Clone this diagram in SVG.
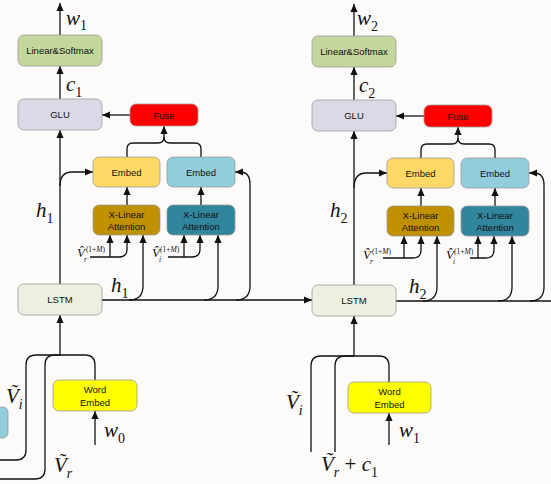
<svg xmlns="http://www.w3.org/2000/svg" width="551" height="484" viewBox="0 0 551 484">
<defs>
<marker id="ah" viewBox="0 0 10 10" refX="10" refY="5" markerWidth="8" markerHeight="8" markerUnits="userSpaceOnUse" orient="auto">
<path d="M0,0.5 L10,5 L0,9.5 z" fill="#111"/>
</marker>
<style>
.box{stroke:#9a9a9a;stroke-width:0.8}
.lin{fill:#c3d69b}.glu{fill:#dcd9e7}.fuse{fill:#ff0000}.emy{fill:#ffd966}.emb{fill:#92cddc}
.xlg{fill:#bf9000}.xlt{fill:#31859c}.lstm{fill:#ebf1de}.wem{fill:#ffff00}
.lbl{font-family:"Liberation Sans",Arial,sans-serif;font-size:9.5px;fill:#111;text-anchor:middle}
.c{fill:none;stroke:#111;stroke-width:1.3}
.a{marker-end:url(#ah)}
.m{font-family:"Liberation Serif","DejaVu Serif",serif;font-style:italic;font-size:21px;fill:#111}
.ms{font-family:"Liberation Serif","DejaVu Serif",serif;font-style:italic;font-size:13px;fill:#111}
.s{font-style:normal;font-size:14px}
.ss{font-style:italic;font-size:7.5px}
.su{font-style:normal;font-size:7.5px}
</style>
</defs>
<rect x="0" y="0" width="551" height="484" fill="#fdfbfa"/>

<g id="connectors">
<!-- left column -->
<path class="c a" d="M60,35 V3"/>
<path class="c a" d="M60,99 V66"/>
<path class="c a" d="M60,284 V130"/>
<path class="c a" d="M60,186 Q60,172 72,172 H93"/>
<path class="c a" d="M130,115 H102"/>
<path class="c a" d="M127,157 V149 Q127,143 133,143 H158 Q164,143 164,137 V126"/>
<path class="c" d="M201,157 V149 Q201,143 195,143 H170 Q164,143 164,137"/>
<path class="c a" d="M127,205 V187"/>
<path class="c a" d="M201,205 V187"/>
<path class="c a" d="M102,300 H312"/>
<path class="c a" d="M129,300 Q143,300 143,286 V235"/>
<path class="c a" d="M204,300 Q218,300 218,286 V235"/>
<path class="c a" d="M236,300 Q250,300 250,286 V184 Q250,172 240,172 H235"/>
<path class="c a" d="M90,257 H119 Q127,257 127,249 V235"/>
<path class="c a" d="M110,257 V235"/>
<path class="c a" d="M168,257 H192 Q200,257 200,249 V235"/>
<path class="c a" d="M184,257 V235"/>
<path class="c a" d="M60,355 V315"/>
<path class="c" d="M0,460 H16 Q26,460 26,450 V365 Q26,355 36,355 H60"/>
<path class="c" d="M0,479 H35 Q45,479 45,469 V365 Q45,355 55,355 H60"/>
<path class="c" d="M95,380 V365 Q95,355 85,355 H60"/>
<path class="c a" d="M95,445 V411"/>
<!-- right column -->
<path class="c a" d="M354,36 V4"/>
<path class="c a" d="M354,100 V67"/>
<path class="c a" d="M354,285 V131"/>
<path class="c a" d="M354,188 Q354,173 366,173 H387"/>
<path class="c a" d="M424,116 H396"/>
<path class="c a" d="M421,158 V150 Q421,144 427,144 H452 Q458,144 458,138 V127"/>
<path class="c" d="M495,158 V150 Q495,144 489,144 H464 Q458,144 458,138"/>
<path class="c a" d="M421,206 V188"/>
<path class="c a" d="M495,206 V188"/>
<path class="c" d="M396,301 H551"/>
<path class="c a" d="M423,301 Q437,301 437,287 V236"/>
<path class="c a" d="M498,301 Q512,301 512,287 V236"/>
<path class="c a" d="M530,301 Q544,301 544,287 V185 Q544,173 534,173 H529"/>
<path class="c a" d="M383,258 H413 Q421,258 421,250 V236"/>
<path class="c a" d="M404,258 V236"/>
<path class="c a" d="M470,258 H486 Q494,258 494,250 V236"/>
<path class="c a" d="M478,258 V236"/>
<path class="c a" d="M354,356 V316"/>
<path class="c" d="M311,452 V366 Q311,356 321,356 H354"/>
<path class="c" d="M335,452 V366 Q335,356 345,356 H354"/>
<path class="c" d="M389,382 V366 Q389,356 379,356 H354"/>
<path class="c a" d="M389,445 V413"/>
</g>

<!-- left column nodes -->
<g id="linear1"><rect class="box lin" x="18" y="35" width="84" height="31" rx="6"/><text class="lbl" x="60" y="54">Linear&amp;Softmax</text></g>
<g id="glu1"><rect class="box glu" x="18" y="99" width="84" height="31" rx="6"/><text class="lbl" x="60" y="118">GLU</text></g>
<g id="fuse1"><rect class="box fuse" x="130" y="104" width="68" height="22" rx="6"/><text class="lbl" x="164" y="118.5">Fuse</text></g>
<g id="embed_r1"><rect class="box emy" x="93" y="157" width="67" height="30" rx="6"/><text class="lbl" x="126.5" y="175.5">Embed</text></g>
<g id="embed_i1"><rect class="box emb" x="167" y="157" width="68" height="30" rx="6"/><text class="lbl" x="201" y="175.5">Embed</text></g>
<g id="xlin_r1"><rect class="box xlg" x="93" y="205" width="67" height="30" rx="6"/><text class="lbl" x="126.5" y="217.5">X-Linear</text><text class="lbl" x="126.5" y="230">Attention</text></g>
<g id="xlin_i1"><rect class="box xlt" x="167" y="205" width="68" height="30" rx="6"/><text class="lbl" x="201" y="217.5">X-Linear</text><text class="lbl" x="201" y="230">Attention</text></g>
<g id="lstm1"><rect class="box lstm" x="18" y="284" width="84" height="31" rx="6"/><text class="lbl" x="60" y="303">LSTM</text></g>
<g id="wordembed1"><rect class="box wem" x="53" y="380" width="84" height="31" rx="6"/><text class="lbl" x="95" y="393">Word</text><text class="lbl" x="95" y="405.5">Embed</text></g>
<g id="partial_embed"><rect class="box emb" x="-10" y="407" width="18" height="31" rx="5"/></g>

<!-- right column nodes -->
<g id="linear2"><rect class="box lin" x="312" y="36" width="84" height="31" rx="6"/><text class="lbl" x="354" y="55">Linear&amp;Softmax</text></g>
<g id="glu2"><rect class="box glu" x="312" y="100" width="84" height="31" rx="6"/><text class="lbl" x="354" y="119">GLU</text></g>
<g id="fuse2"><rect class="box fuse" x="424" y="105" width="68" height="22" rx="6"/><text class="lbl" x="458" y="119.5">Fuse</text></g>
<g id="embed_r2"><rect class="box emy" x="387" y="158" width="67" height="30" rx="6"/><text class="lbl" x="420.5" y="176.5">Embed</text></g>
<g id="embed_i2"><rect class="box emb" x="461" y="158" width="68" height="30" rx="6"/><text class="lbl" x="495" y="176.5">Embed</text></g>
<g id="xlin_r2"><rect class="box xlg" x="387" y="206" width="67" height="30" rx="6"/><text class="lbl" x="420.5" y="218.5">X-Linear</text><text class="lbl" x="420.5" y="231">Attention</text></g>
<g id="xlin_i2"><rect class="box xlt" x="461" y="206" width="68" height="30" rx="6"/><text class="lbl" x="495" y="218.5">X-Linear</text><text class="lbl" x="495" y="231">Attention</text></g>
<g id="lstm2"><rect class="box lstm" x="312" y="285" width="84" height="31" rx="6"/><text class="lbl" x="354" y="304">LSTM</text></g>
<g id="wordembed2"><rect class="box wem" x="348" y="382" width="83" height="31" rx="6"/><text class="lbl" x="389.5" y="395">Word</text><text class="lbl" x="389.5" y="407.5">Embed</text></g>

<!-- math labels -->
<g id="labels">
<text class="m" x="66" y="25">w<tspan class="s" dy="5">1</tspan></text>
<text class="m" x="66" y="91">c<tspan class="s" dy="6">1</tspan></text>
<text class="m" x="36" y="217">h<tspan class="s" dy="6">1</tspan></text>
<text class="m" x="111" y="292">h<tspan class="s" dy="6">1</tspan></text>
<text class="ms" x="77" y="257">V̂<tspan class="ss" dx="-1" dy="5">r</tspan><tspan class="su" dx="-1" dy="-10">(1+</tspan><tspan class="ss">M</tspan><tspan class="su">)</tspan></text>
<text class="ms" x="152" y="257">V̂<tspan class="ss" dx="-1" dy="5">i</tspan><tspan class="su" dx="-1" dy="-10">(1+</tspan><tspan class="ss">M</tspan><tspan class="su">)</tspan></text>
<text class="m" x="6" y="403">Ṽ<tspan class="s" style="font-style:italic" dy="6">i</tspan></text>
<text class="m" x="54" y="472">Ṽ<tspan class="s" style="font-style:italic" dy="6">r</tspan></text>
<text class="m" x="104" y="437">w<tspan class="s" dy="6">0</tspan></text>

<text class="m" x="357" y="25">w<tspan class="s" dy="6">2</tspan></text>
<text class="m" x="359" y="92">c<tspan class="s" dy="6">2</tspan></text>
<text class="m" x="330" y="217">h<tspan class="s" dy="6">2</tspan></text>
<text class="m" x="409" y="293">h<tspan class="s" dy="6">2</tspan></text>
<text class="ms" x="363" y="259">V̂<tspan class="ss" dx="-1" dy="5">r</tspan><tspan class="su" dx="-1" dy="-10">(1+</tspan><tspan class="ss">M</tspan><tspan class="su">)</tspan></text>
<text class="ms" x="446" y="259">V̂<tspan class="ss" dx="-1" dy="5">i</tspan><tspan class="su" dx="-1" dy="-10">(1+</tspan><tspan class="ss">M</tspan><tspan class="su">)</tspan></text>
<text class="m" x="286" y="409">Ṽ<tspan class="s" style="font-style:italic" dy="6">i</tspan></text>
<text class="m" x="321" y="471">Ṽ<tspan class="s" style="font-style:italic" dy="6">r</tspan><tspan style="font-style:normal" dy="-6"> + </tspan>c<tspan class="s" dy="6">1</tspan></text>
<text class="m" x="399" y="437">w<tspan class="s" dy="6">1</tspan></text>
</g>
</svg>
